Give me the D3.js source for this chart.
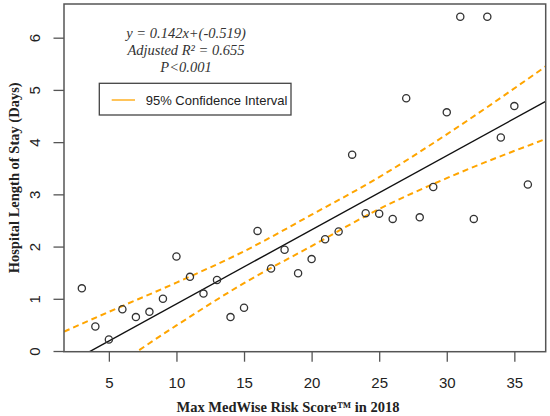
<!DOCTYPE html>
<html>
<head>
<meta charset="utf-8">
<script src="https://cdn.jsdelivr.net/npm/d3@7"></script>
<style>
  body { margin: 0; background: #fff; }
  svg { display: block; }
</style>
</head>
<body>
<script>
// MedWise risk score vs hospital length of stay
const riskScore = [3, 4, 5, 6, 7, 8, 9, 10, 11, 12, 13, 14, 15, 16, 17, 18, 19,
  20, 21, 22, 23, 24, 25, 26, 27, 28, 29, 30, 31, 32, 33, 34, 35, 36];
const lengthOfStay = [1.20, 0.47, 0.22, 0.80, 0.65, 0.75, 1.00, 1.81, 1.42, 1.10,
  1.36, 0.65, 0.83, 2.30, 1.58, 1.94, 1.49, 1.76, 2.14, 2.29, 3.76, 2.64, 2.63,
  2.53, 4.84, 2.56, 3.14, 4.57, 6.40, 2.53, 6.40, 4.09, 4.69, 3.19];

// 95% confidence band
const ciX = [1.68, 5, 10, 15, 20, 25, 30, 37.32];
const ciUpper = [0.37, 0.75, 1.31, 1.91, 2.61, 3.33, 4.15, 5.45];
const ciLower = [-0.93, -0.37, 0.49, 1.30, 2.01, 2.72, 3.31, 4.06];

const slope = 0.142;
const intercept = -0.519;

const xTicks = [5, 10, 15, 20, 25, 30, 35];
const yTicks = [0, 1, 2, 3, 4, 5, 6];
const annotation = ['y = 0.142x+(-0.519)', 'Adjusted R\u00B2 = 0.655', 'P<0.001'];
const legendLabel = '95% Confidence Interval';

const width = 550;
const height = 416;
const plotLeft = 64, plotRight = 545.7, plotTop = 4, plotBottom = 351.7;

const svg = d3.select('body')
    .append('svg')
    .attr('width', width)
    .attr('height', height);

const xScale = d3.scaleLinear()
    .domain([1.68, 37.32])
    .range([plotLeft, plotRight]);

const yScale = d3.scaleLinear()
    .domain([-0.013, 6.645])
    .range([plotBottom, plotTop]);

svg.append('clipPath')
    .attr('id', 'plot')
    .append('rect')
    .attr('x', plotLeft)
    .attr('y', plotTop)
    .attr('width', plotRight - plotLeft)
    .attr('height', plotBottom - plotTop);

// axes
const xAxis = d3.axisBottom(xScale)
    .tickValues(xTicks)
    .tickFormat(d3.format('d'))
    .tickSize(10)
    .tickSizeOuter(0);

const yAxis = d3.axisLeft(yScale)
    .tickValues(yTicks)
    .tickFormat(d3.format('d'))
    .tickSize(10.5)
    .tickSizeOuter(0);

const gx = svg.append('g')
    .attr('transform', `translate(0, ${plotBottom})`)
    .call(xAxis);

const gy = svg.append('g')
    .attr('transform', `translate(${plotLeft}, 0)`)
    .call(yAxis);

[gx, gy].forEach(g => {
    g.select('.domain').remove();
    g.selectAll('line').attr('stroke', '#555').attr('stroke-width', 1.3);
    g.selectAll('text')
        .attr('fill', '#222')
        .style('font-family', '"Liberation Sans", Arial, sans-serif')
        .style('font-size', '15px');
});

gx.selectAll('text')
    .attr('y', 25.5)
    .attr('dy', '0.71em');

gy.selectAll('text')
    .attr('x', null)
    .attr('dy', '0.35em')
    .attr('text-anchor', 'middle')
    .attr('transform', 'translate(-29,0) rotate(-90)');

const plot = svg.append('g').attr('clip-path', 'url(#plot)');

// confidence band
const ciLine = d3.line()
    .x(d => xScale(d[0]))
    .y(d => yScale(d[1]))
    .curve(d3.curveMonotoneX);

[ciUpper, ciLower].forEach(band => {
    plot.append('path')
        .datum(ciX.map((x, i) => [x, band[i]]))
        .attr('d', ciLine)
        .attr('fill', 'none')
        .attr('stroke', '#FFA500')
        .attr('stroke-width', 2)
        .attr('stroke-dasharray', '6,4');
});

// fitted line
const xDomain = xScale.domain();
plot.append('line')
    .attr('x1', xScale(xDomain[0]))
    .attr('y1', yScale(slope * xDomain[0] + intercept))
    .attr('x2', xScale(xDomain[1]))
    .attr('y2', yScale(slope * xDomain[1] + intercept))
    .attr('stroke', '#111')
    .attr('stroke-width', 1.4);

// points
svg.selectAll('circle.pt')
    .data(riskScore)
    .enter()
    .append('circle')
    .attr('class', 'pt')
    .attr('cx', d => xScale(d))
    .attr('cy', (d, i) => yScale(lengthOfStay[i]))
    .attr('r', 3.6)
    .attr('fill', 'none')
    .attr('stroke', '#333')
    .attr('stroke-width', 1.3);

// box
svg.append('rect')
    .attr('x', plotLeft)
    .attr('y', plotTop)
    .attr('width', plotRight - plotLeft)
    .attr('height', plotBottom - plotTop)
    .attr('fill', 'none')
    .attr('stroke', '#555')
    .attr('stroke-width', 1.5);

// equation text
svg.selectAll('text.eq')
    .data(annotation)
    .enter()
    .append('text')
    .attr('class', 'eq')
    .attr('x', 186)
    .attr('y', (d, i) => 38 + i * 17)
    .attr('text-anchor', 'middle')
    .attr('fill', '#333')
    .style('font-family', '"Liberation Serif", "Times New Roman", serif')
    .style('font-style', 'italic')
    .style('font-size', '14.5px')
    .text(d => d);

// legend
svg.append('rect')
    .attr('x', 99.3)
    .attr('y', 83.3)
    .attr('width', 191.7)
    .attr('height', 31.7)
    .attr('fill', '#fff')
    .attr('stroke', '#444')
    .attr('stroke-width', 1.3);

svg.append('line')
    .attr('x1', 111.7)
    .attr('x2', 135)
    .attr('y1', 100)
    .attr('y2', 100)
    .attr('stroke', '#FFA500')
    .attr('stroke-width', 1.3);

svg.append('text')
    .attr('x', 145.7)
    .attr('y', 104.5)
    .attr('fill', '#222')
    .style('font-family', '"Liberation Sans", Arial, sans-serif')
    .style('font-size', '13px')
    .text(legendLabel);

// axis titles
svg.append('text')
    .attr('x', 288)
    .attr('y', 411.5)
    .attr('text-anchor', 'middle')
    .attr('fill', '#222')
    .style('font-family', '"Liberation Serif", "Times New Roman", serif')
    .style('font-weight', 'bold')
    .style('font-size', '14.5px')
    .text('Max MedWise Risk Score\u2122 in 2018');

svg.append('text')
    .attr('transform', `translate(19, ${(plotTop + plotBottom) / 2}) rotate(-90)`)
    .attr('text-anchor', 'middle')
    .attr('fill', '#222')
    .style('font-family', '"Liberation Serif", "Times New Roman", serif')
    .style('font-weight', 'bold')
    .style('font-size', '14.5px')
    .text('Hospital Length of Stay (Days)');
</script>
</body>
</html>
